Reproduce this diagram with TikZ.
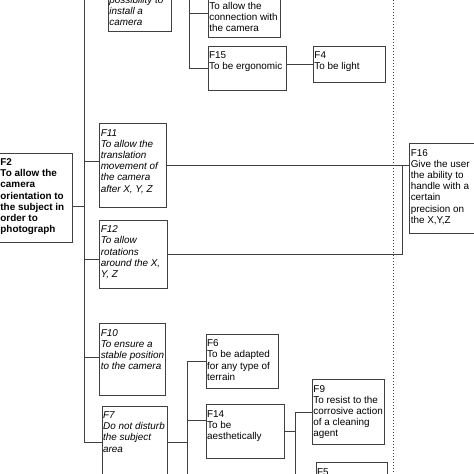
\documentclass[tikz,border=0pt]{standalone}
\usepackage{fontspec}
\setmainfont{Liberation Sans}
\usetikzlibrary{calc}

% text block of a function box: width, height, lines
\newcommand{\fntext}[3]{\parbox[c][#2][t]{#1}{\begin{tabular}[t]{@{}l@{}}#3\end{tabular}}}

\begin{document}
\begin{tikzpicture}[
  x = 1pt, y = -1pt,
  every node/.style = {font=\fontsize{9.9}{11.2}\selectfont},
  fn/.style    = {rectangle, draw=black!75, line width=0.9pt, anchor=north west,
                  inner xsep=1pt, inner ysep=4.5pt},
  fni/.style   = {fn, font=\fontsize{9.9}{11.2}\selectfont\itshape},
  fnb/.style   = {fn, font=\fontsize{9.9}{11.2}\selectfont\bfseries},
  link/.style  = {draw=black!75, line width=0.9pt},
  dotline/.style = {draw=black!75, line width=0.9pt, dash pattern=on 1pt off 2pt}
]
\useasboundingbox (0,0) rectangle (474,474);
\clip (0,0) rectangle (474,474);

% ---- free ends of the long lines (outside the frame) -------------------
\coordinate (ttop) at (84,0);
\coordinate (vt)   at (189,0);
\coordinate (vb1)  at (187.7,480);
\coordinate (vb2)  at (295,480);
\coordinate (dtop) at (393.7,0);
\coordinate (dbot) at (393.7,474);

% ---- top group --------------------------------------------------------
\node[fni, at={(108,-9.3)}]   (cam)  {\fntext{61pt}{31.3pt}{possibility to\\install a\\camera}};
\node[fn,  at={(208,-3.3)}]   (conn) {\fntext{70pt}{31.6pt}{To allow the\\connection with\\the camera}};
\node[fn,  at={(207.7,45.7)}] (f15)  {\fntext{76.3pt}{35.3pt}{F15\\To be ergonomic}};
\node[fn,  at={(313,45.7)}]   (f4)   {\fntext{69.7pt}{27pt}{F4\\To be light}};

\coordinate (bconn) at ([yshift=3.7pt]conn.west);
\draw[link] (vt) |- (f15.west);
\draw[link] (bconn) -- (bconn -| vt);
\draw[link] (f4.west) -- (f4.west -| f15.east);

% ---- main function and trunk -------------------------------------------
\node[fnb, at={(-1,152.7)}]   (f2)  {\fntext{71pt}{80pt}{F2\\To allow the\\camera\\orientation to\\the subject in\\order to\\photograph}};
\node[fni, at={(99.3,123.3)}] (f11) {\fntext{64.4pt}{75pt}{F11\\To allow the\\translation\\movement of\\the camera\\after X, Y, Z}};
\node[fni, at={(99.3,220)}]   (f12) {\fntext{66pt}{58.7pt}{F12\\To allow\\rotations\\around the X,\\Y, Z}};
\node[fni, at={(99.3,323.3)}] (f10) {\fntext{63.7pt}{62.7pt}{F10\\To ensure a\\stable position\\to the camera}};
\node[fni, at={(101.7,405.7)}] (f7) {\fntext{63.6pt}{63pt}{F7\\Do not disturb\\the subject\\area}};

\coordinate (b2)  at ([yshift=-8.8pt]f2.east);
\coordinate (b11) at ([yshift=4.3pt]f11.west);
\coordinate (b12) at ([yshift=-5.5pt]f12.west);
\coordinate (b10) at ([yshift=1.8pt]f10.west);
\draw[link] (ttop) |- (f7.west);
\draw[link] (b2)  -- (b2 -| ttop);
\draw[link] (b11) -- (b11 -| ttop);
\draw[link] (b12) -- (b12 -| ttop);
\draw[link] (b10) -- (b10 -| ttop);

% ---- right side --------------------------------------------------------
\draw[dotline] (dtop) -- (dbot);
\node[fn, at={(409.3,143.3)}] (f16) {\fntext{62.2pt}{80.4pt}{F16\\Give the user\\the ability to\\handle with a\\certain\\precision on\\the X,Y,Z}};

\coordinate (j16) at ([xshift=-6.8pt]f11.east -| f16.west);
\draw[link] (f11.east) -- (f11.east -| f16.west);
\draw[link] (f12.east) -| (j16);

% ---- bottom group ------------------------------------------------------
\node[fn, at={(205.7,334)}]   (f6)  {\fntext{70pt}{45.3pt}{F6\\To be adapted\\for any type of\\terrain}};
\node[fn, at={(205.7,404.3)}] (f14) {\fntext{76.6pt}{45pt}{F14\\To be\\aesthetically}};
\node[fn, at={(312,379.3)}]   (f9)  {\fntext{70pt}{55.7pt}{F9\\To resist to the\\corrosive action\\of a cleaning\\agent}};
\node[fn, at={(315.7,462.3)}] (f5)  {\fntext{69.6pt}{21pt}{F5}};

\coordinate (b14) at ([yshift=11.3pt]f14.west);
\draw[link] (f6.west) -| (vb1);
\draw[link] (f7.east) -- (f7.east -| vb1);
\draw[link] (b14) -- (b14 -| vb1);
\draw[link] (f9.west) -| (vb2);
\draw[link] (f14.east) -- (f14.east -| vb2);

\end{tikzpicture}
\end{document}
